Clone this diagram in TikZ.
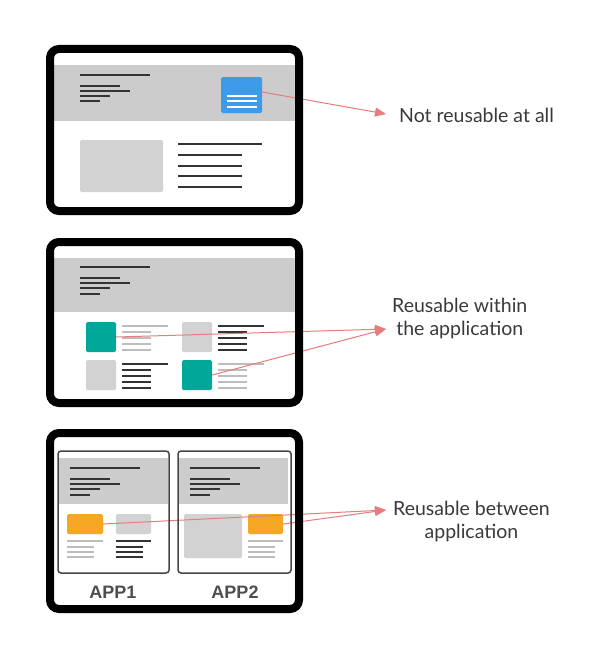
\documentclass[tikz,border=0pt]{standalone}
\usepackage{fontspec}
\setmainfont{Lato}
\usetikzlibrary{arrows.meta}

\definecolor{hdrgray}{HTML}{CCCCCC}
\definecolor{boxgray}{HTML}{D2D2D2}
\definecolor{darkline}{HTML}{333333}
\definecolor{lightline}{HTML}{BDBDBD}
\definecolor{uiblue}{HTML}{3D9BEA}
\definecolor{uiteal}{HTML}{00A89A}
\definecolor{uiorange}{HTML}{F5A623}
\definecolor{arrowred}{HTML}{E87C7C}
\definecolor{txtgray}{HTML}{3A3A3A}

\begin{document}
\begin{tikzpicture}[x=1pt,y=-1pt,
		frame/.style={draw=black,line width=8pt,rounded corners=9pt},
		appframe/.style={draw=darkline!90,line width=1.5pt,rounded corners=3pt},
		dark/.style={draw=darkline,line width=2.5pt},
		thin/.style={draw=darkline,line width=2pt},
		light/.style={draw=lightline,line width=2.5pt},
		widget/.style={inner sep=0pt,rounded corners=1.5pt},
		arr/.style={color=arrowred,line width=1pt,-{Triangle[length=11pt,width=9pt]}},
		lbl/.style={anchor=west,inner sep=0pt,text=txtgray,font=\fontsize{19.5}{23}\selectfont,align=center},
		applbl/.style={inner sep=0pt,text=txtgray!90,font=\fontsize{18}{20}\bfseries\fontspec{Liberation Sans}}]
	\useasboundingbox[fill=white] (0,0) rectangle (610,661);

	% not reusable
	\fill[hdrgray] (54,65) rectangle (295,121);
	\draw[dark] (80,75) -- (150,75);
	\foreach \y/\len in {86/40,91/50,96/30,101/20}
		\draw[thin] (80,\y) -- ++(\len,0);
	\node[widget,fill=uiblue,minimum width=41pt,minimum height=36pt] (blue) at (241.5,95) {};
	\foreach \y in {96,101,107}
		\draw[white,line width=2pt] (227,\y) -- (257,\y);
	\fill[boxgray,rounded corners=1.5pt] (80,140) rectangle (163,192);
	\draw[dark] (178,144) -- (262,144);
	\foreach \y in {155,166,176,187}
		\draw[dark] (178,\y) -- (242,\y);

	% within the application
	\fill[hdrgray] (54,258) rectangle (295,312);
	\draw[dark] (80,267) -- (150,267);
	\foreach \y/\len in {278/40,283/50,288/30,294/20}
		\draw[thin] (80,\y) -- ++(\len,0);
	\node[widget,fill=uiteal,minimum size=30pt] (teal1) at (101,337) {};
	\node[widget,fill=boxgray,minimum size=30pt] (gray1) at (197,337) {};
	\node[widget,fill=boxgray,minimum size=30pt] (gray2) at (101,375) {};
	\node[widget,fill=uiteal,minimum size=30pt] (teal2) at (197,375) {};
	\foreach \x/\y/\sty in {122/322/light,218/322/dark,122/360/dark,218/360/light}{
		\draw[\sty] (\x,\y+4) -- ++(46,0);
		\foreach \dy in {10,16,22,28}
			\draw[\sty] (\x,\y+\dy) -- ++(29,0);
	}

	% between applications
	\foreach \x in {0,120}{
		\fill[hdrgray] (59+\x,458) rectangle (168+\x,504);
		\draw[dark] (70+\x,468) -- (140+\x,468);
		\foreach \y/\len in {479/40,484/50,489/30,495/20}
			\draw[thin] (70+\x,\y) -- ++(\len,0);
	}
	\node[widget,fill=uiorange,minimum width=36pt,minimum height=20pt] (orange1) at (85,524) {};
	\fill[boxgray,rounded corners=1.5pt] (116,514) rectangle (151,534);
	\fill[boxgray,rounded corners=1.5pt] (184,514) rectangle (242,558);
	\node[widget,fill=uiorange,minimum width=35pt,minimum height=20pt] (orange2) at (265.5,524) {};
	\foreach \x/\sty/\w in {67/light/36,116/dark/35,248/light/35}{
		\draw[\sty,line width=2pt] (\x,541) -- ++(\w,0);
		\foreach \y in {547,552,557}
			\draw[\sty,line width=2pt] (\x,\y) -- ++(27,0);
	}
	\node[applbl] (app1) at (113,592) {APP1};
	\node[applbl] (app2) at (235,592) {APP2};

	% labels and arrows
	\coordinate (tip1) at (386,114);
	\coordinate (tip2) at (386,329);
	\coordinate (tip3) at (386,510);
	\node[lbl] (none) at (399,115) {Not reusable at all};
	\node[lbl] (within) at (392,318) {Reusable within\\the application};
	\node[lbl] (between) at (393,521) {Reusable between\\application};
	\path
		(blue.east |- 0,92) edge [arr] (tip1)
		(teal1.east)        edge [arr] (tip2)
		(teal2.east)        edge [arr] (tip2)
		(orange1.east)      edge [arr] (tip3)
		(orange2.east)      edge [arr] (tip3);

	\draw[frame] (50,49) rectangle (299,211);
	\draw[frame] (50,242) rectangle (299,403);
	\draw[frame] (50,433) rectangle (299,609);
	\draw[appframe] (58,451) rectangle (169,573);
	\draw[appframe] (178,451) rectangle (291,573);
\end{tikzpicture}
\end{document}
